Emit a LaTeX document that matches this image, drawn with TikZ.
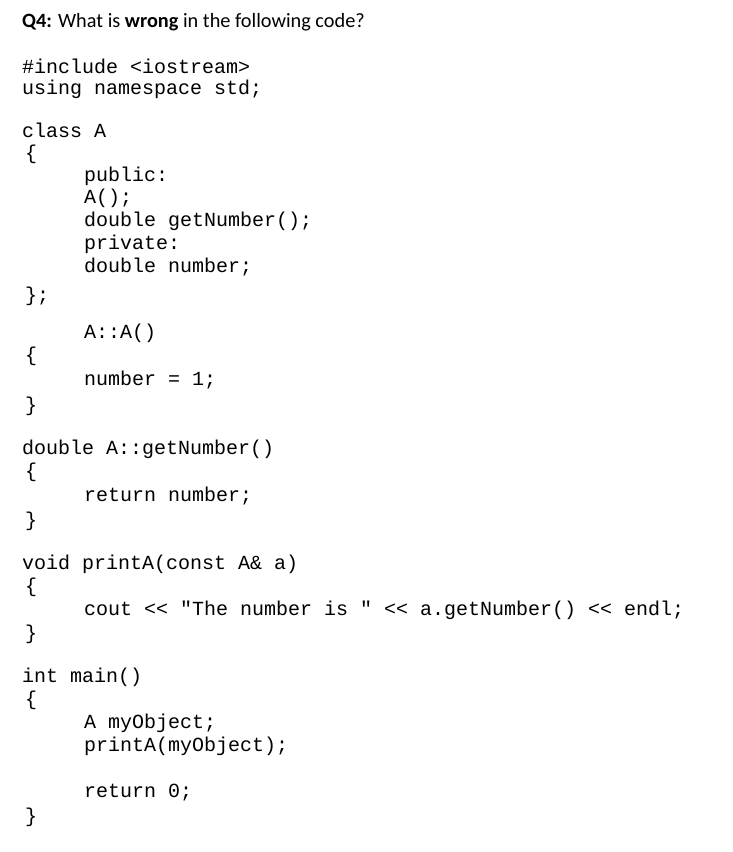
\documentclass[tikz,border=0pt]{standalone}
\usepackage{fontspec}
\setmainfont{Carlito}
\newfontfamily\codefont{Liberation Mono}
\begin{document}
\begin{tikzpicture}[x=1pt,y=-1pt,
  code/.style={anchor=west,inner sep=0pt,font=\codefont\fontsize{20}{23}\selectfont},
  head/.style={anchor=west,inner sep=0pt,font=\fontsize{20.3}{24}\selectfont}]
\useasboundingbox (0,0) rectangle (732,852);
\node[head] (h) at (22,22) {\textbf{Q4:} What is \textbf{wrong} in the following code?};
\node[code] (l1) at (22,66) {\#include <iostream>};
\node[code] (l2) at (22,89) {using namespace std;};
\node[code] (l3) at (22,130) {class A};
\node[code] (l4) at (25,154) {\{};
\node[code] (l5) at (84,176) {public:};
\node[code] (l6) at (84,198) {A();};
\node[code] (l7) at (84,221) {double getNumber();};
\node[code] (l8) at (84,244) {private:};
\node[code] (l9) at (84,267) {double number;};
\node[code] (l10) at (25,296) {\};};
\node[code] (l11) at (84,333) {A::A()};
\node[code] (l12) at (25,356) {\{};
\node[code] (l13) at (84,380) {number = 1;};
\node[code] (l14) at (25,406) {\}};
\node[code] (l15) at (22,449) {double A::getNumber()};
\node[code] (l16) at (25,472) {\{};
\node[code] (l17) at (84,496) {return number;};
\node[code] (l18) at (25,521) {\}};
\node[code] (l19) at (22,564) {void printA(const A\& a)};
\node[code] (l20) at (25,587) {\{};
\node[code] (l21) at (84,610) {cout << "The number is " << a.getNumber() << endl;};
\node[code] (l22) at (25,634) {\}};
\node[code] (l23) at (22,677) {int main()};
\node[code] (l24) at (25,700) {\{};
\node[code] (l25) at (84,723) {A myObject;};
\node[code] (l26) at (84,746) {printA(myObject);};
\node[code] (l27) at (84,793) {return 0;};
\node[code] (l28) at (25,817) {\}};
\end{tikzpicture}
\end{document}
